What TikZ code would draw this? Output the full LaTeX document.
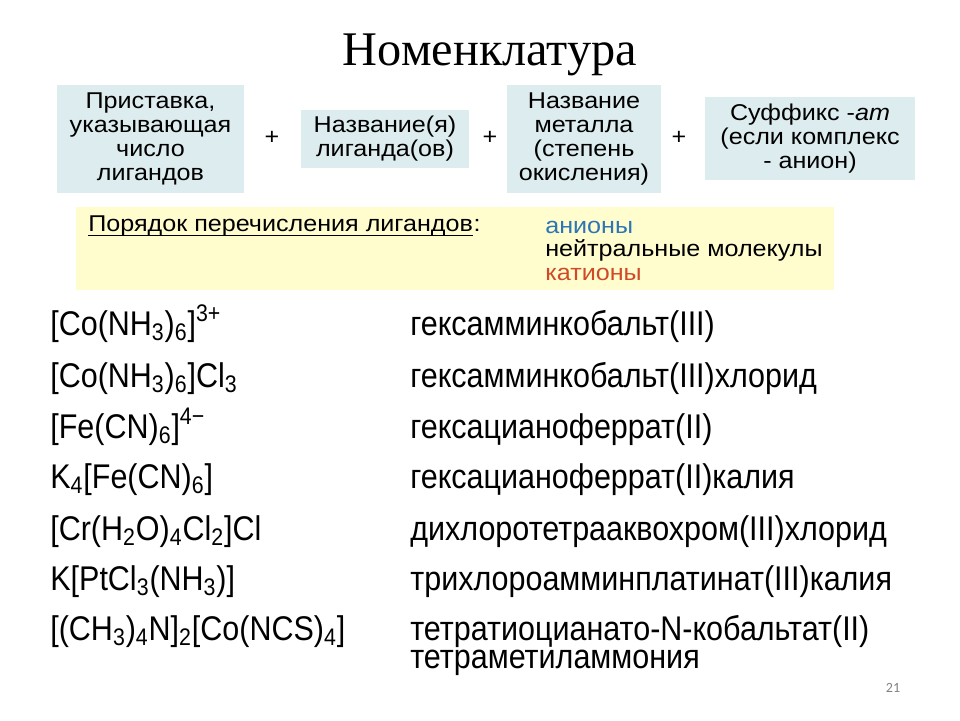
\documentclass[tikz,border=0pt]{standalone}
\usepackage{fontspec}
\setmainfont{Liberation Sans}
\newfontfamily\titlefont{Liberation Serif}
\newfontfamily\boxfont[FakeStretch=1.1]{Liberation Sans}
\newfontfamily\rowfont[FakeStretch=0.89]{Liberation Sans}
\newfontfamily\pagefont{Carlito}
\usetikzlibrary{positioning}
\definecolor{boxblue}{RGB}{221,236,238}
\definecolor{noteyellow}{RGB}{255,253,206}
\definecolor{anionblue}{RGB}{46,117,182}
\definecolor{cationred}{RGB}{208,74,40}
\begin{document}
\begin{tikzpicture}[x=0.02cm,y=-0.02cm,
    part/.style={fill=boxblue, inner sep=0pt, align=center, font=\boxfont\fontsize{13}{13.6}\selectfont},
    plus/.style={inner sep=0pt, font=\boxfont\fontsize{13}{13.6}\selectfont},
    order/.style={anchor=base west, inner sep=0pt, font=\boxfont\fontsize{13}{13.6}\selectfont},
    formula/.style={anchor=base west, inner sep=0pt, font=\rowfont\fontsize{19.5}{15.9}\selectfont}]
    \useasboundingbox (0,0) rectangle (960,720);
    \node[anchor=base, inner sep=0pt, font=\titlefont\fontsize{27.5}{30}\selectfont] (title) at (490,65) {Номенклатура};

    % name scheme
    \node[part, minimum width=3.74cm, minimum height=2.16cm] (prefix) at (150.5,139) {Приставка,\\указывающая\\число\\лигандов};
    \node[plus] (p1) at (272,138) {+};
    \node[part, minimum width=3.36cm, minimum height=1.16cm] (ligand) at (385,139) {Название(я)\\лиганда(ов)};
    \node[plus] (p2) at (490,138) {+};
    \node[part, minimum width=3.08cm, minimum height=2.16cm] (metal) at (584,139) {Название\\металла\\(степень\\окисления)};
    \node[plus] (p3) at (679,138) {+};
    \node[part, minimum width=4.2cm, minimum height=1.66cm] (suffix) at (810,138.5) {Суффикс -\textit{ат}\\(если комплекс\\- анион)};

    % ligand order
    \node[fill=noteyellow, minimum width=15.16cm, minimum height=1.66cm] (note) at (455,248.5) {};
    \node[order] (orderhead) at (88,231) {Порядок перечисления лигандов};
    \node[order, right=0pt of orderhead.base east, anchor=base west] (colon) {:};
    \draw[line width=0.6pt] ([yshift=-2.8pt]orderhead.base west) -- ([yshift=-2.8pt]orderhead.base east);
    \node[order, text=anionblue] (anions) at (545,233) {анионы};
    \node[order] (neutral) at (545,256) {нейтральные молекулы};
    \node[order, text=cationred] (cations) at (545,280) {катионы};

    % examples
    \node[formula] (f1) at (50,335) {[Co(NH\textsubscript{3})\textsubscript{6}]\textsuperscript{3+}};
    \node[formula] (n1) at (410,335) {гексамминкобальт(III)};
    \node[formula] (f2) at (50,387) {[Co(NH\textsubscript{3})\textsubscript{6}]Cl\textsubscript{3}};
    \node[formula] (n2) at (410,387) {гексамминкобальт(III)хлорид};
    \node[formula] (f3) at (50,438) {[Fe(CN)\textsubscript{6}]\textsuperscript{4−}};
    \node[formula] (n3) at (410,438) {гексацианоферрат(II)};
    \node[formula] (f4) at (50,488) {K\textsubscript{4}[Fe(CN)\textsubscript{6}]};
    \node[formula] (n4) at (410,488) {гексацианоферрат(II)калия};
    \node[formula] (f5) at (50,540) {[Cr(H\textsubscript{2}O)\textsubscript{4}Cl\textsubscript{2}]Cl};
    \node[formula] (n5) at (410,540) {дихлоротетрааквохром(III)хлорид};
    \node[formula] (f6) at (50,590) {K[PtCl\textsubscript{3}(NH\textsubscript{3})]};
    \node[formula] (n6) at (410,590) {трихлороамминплатинат(III)калия};
    \node[formula] (f7) at (50,640) {[(CH\textsubscript{3})\textsubscript{4}N]\textsubscript{2}[Co(NCS)\textsubscript{4}]};
    \node[formula, align=left] (n7) at (410,668) {тетратиоцианато-N-кобальтат(II)\\тетраметиламмония};

    \node[inner sep=0pt, text=gray, font=\pagefont\fontsize{8}{9}\selectfont] (page) at (893,688) {21};
\end{tikzpicture}
\end{document}
